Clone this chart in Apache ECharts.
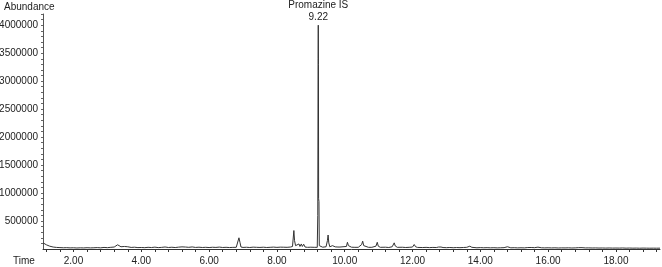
<!DOCTYPE html>
<html>
<head>
<meta charset="utf-8">
<script src="https://cdn.jsdelivr.net/npm/echarts@6/dist/echarts.min.js"></script>
<style>html,body{margin:0;padding:0;background:#fff;}#c{width:662px;height:267px;}</style>
</head>
<body>
<div id="c"></div>
<script>
// Retention time (min)
var times = [
1.10,1.15,1.20,1.30,1.40,1.50,1.60,1.70,1.80,1.90,2.00,2.10,2.20,2.30,2.40,2.50,2.60,2.70,2.80,2.90,
3.00,3.10,3.20,3.25,3.30,3.35,3.40,3.50,3.55,3.60,3.70,3.80,3.90,4.00,4.10,4.20,4.30,4.40,4.50,4.60,
4.70,4.80,4.90,5.00,5.10,5.20,5.25,5.30,5.40,5.50,5.60,5.70,5.80,5.90,6.00,6.10,6.20,6.30,6.40,6.50,
6.60,6.70,6.80,6.85,6.88,6.91,6.94,7.00,7.10,7.20,7.30,7.35,7.40,7.50,7.60,7.70,7.80,7.90,8.00,8.10,
8.15,8.20,8.30,8.40,8.46,8.50,8.52,8.55,8.60,8.65,8.68,8.72,8.75,8.79,8.83,8.90,9.00,9.05,9.10,9.15,
9.19,9.205,9.215,9.22,9.225,9.23,9.24,9.25,9.30,9.35,9.40,9.45,9.49,9.51,9.53,9.56,9.60,9.64,9.66,9.69,
9.72,9.76,9.80,9.83,9.86,9.90,9.95,10.00,10.05,10.08,10.11,10.15,10.20,10.25,10.30,10.35,10.40,10.45,10.50,10.53,
10.56,10.60,10.70,10.75,10.80,10.85,10.92,10.96,10.99,11.05,11.10,11.20,11.30,11.40,11.46,11.49,11.55,11.60,11.70,11.80,
11.90,12.00,12.05,12.09,12.15,12.20,12.30,12.40,12.50,12.60,12.70,12.77,12.80,12.84,12.90,13.00,13.10,13.20,13.30,13.40,
13.50,13.60,13.69,13.75,13.80,13.90,14.00,14.10,14.20,14.30,14.40,14.50,14.60,14.70,14.80,14.85,14.90,15.00,15.10,15.20,
15.30,15.40,15.50,15.60,15.70,15.75,15.80,15.90,16.00,16.10,16.20,16.30,16.40,16.50,16.60,16.70,16.80,16.90,16.95,17.00,
17.10,17.20,17.30,17.40,17.50,17.60,17.70,17.80,17.90,18.00,18.10,18.20,18.30,18.40,18.50,18.60,18.70,18.80,18.90,19.00,
19.10,19.20,19.30
];
// Abundance
var abundance = [
110000,95000,75000,50000,35000,28000,25000,22000,24000,20000,22000,18000,21000,19000,23000,20000,22000,25000,21000,28000,
24000,30000,35000,50000,75000,60000,40000,45000,35000,40000,28000,32000,25000,27000,24000,30000,26000,33000,25000,29000,
36000,27000,31000,26000,33000,38000,55000,35000,30000,37000,28000,32000,27000,30000,26000,31000,28000,34000,27000,30000,
26000,29000,30000,60000,200000,120000,35000,28000,31000,27000,33000,45000,30000,28000,32000,27000,30000,34000,29000,33000,
50000,32000,30000,35000,45000,330000,150000,60000,40000,90000,45000,90000,45000,85000,35000,30000,32000,45000,30000,28000,
30000,600000,3400000,4000000,3300000,900000,850000,60000,35000,32000,30000,40000,150000,250000,110000,40000,35000,60000,90000,45000,
38000,55000,35000,60000,35000,32000,40000,30000,45000,120000,60000,35000,32000,40000,30000,35000,30000,38000,80000,140000,
60000,32000,30000,40000,30000,33000,50000,120000,50000,30000,28000,32000,27000,40000,110000,55000,30000,28000,31000,27000,
30000,35000,80000,40000,28000,30000,26000,29000,25000,28000,26000,35000,62000,35000,26000,24000,27000,23000,26000,24000,
27000,30000,50000,30000,24000,22000,25000,22000,24000,21000,23000,20000,22000,24000,40000,25000,21000,23000,20000,22000,
20000,26000,27000,24000,33000,25000,22000,20000,22000,19000,21000,18000,20000,19000,21000,18000,20000,24000,28000,24000,
19000,20000,18000,19000,17000,18000,16000,18000,16000,17000,16000,18000,15000,17000,15000,16000,14000,16000,15000,14000,
15000,14000,15000
];
var xLabelValues = [2, 4, 6, 8, 10, 12, 14, 16, 18];
var yLabelValues = [500000, 1000000, 1500000, 2000000, 2500000, 3000000, 3500000, 4000000];
var peakName = 'Promazine IS';
var peakTime = 9.22;
var peakAbundance = 4000000;

var xMinorTicks = [];
for (var t = 1.2; t <= 19.25; t += 0.4) xMinorTicks.push(Math.round(t * 10) / 10);
var yMinorTicks = [];
for (var v = 100000; v <= 4200000; v += 100000) yMinorTicks.push(v);

var data = times.map(function (t, i) { return [t, abundance[i]]; });
var FONT = 'Liberation Sans, Arial, sans-serif';
var chart = echarts.init(document.getElementById('c'), null, {renderer: 'canvas'});
chart.setOption({
  animation: false,
  backgroundColor: '#fff',
  grid: {left: 43, right: 2, top: 14, bottom: 18, containLabel: false, outerBoundsMode: 'none'},
  graphic: [
    {type: 'text', left: 4, top: 2, style: {text: 'Abundance', font: '10px ' + FONT, fill: '#222'}},
    {type: 'text', left: 13, top: 256, style: {text: 'Time', font: '10px ' + FONT, fill: '#222'}}
  ],
  xAxis: {
    type: 'value', min: 1.1, max: 19.3,
    axisLine: {show: true, onZero: false, lineStyle: {color: '#333', width: 1}},
    axisTick: {show: true, customValues: xMinorTicks, length: 3, lineStyle: {color: '#333'}},
    axisLabel: {customValues: xLabelValues, formatter: function (v) { return v.toFixed(2); },
      margin: 7, fontSize: 10, fontFamily: FONT, color: '#222'},
    splitLine: {show: false}
  },
  yAxis: {
    type: 'value', min: 0, max: 4200000,
    axisLine: {show: true, lineStyle: {color: '#555', width: 1}},
    axisTick: {show: true, customValues: yMinorTicks, length: 2, lineStyle: {color: '#666'}},
    axisLabel: {customValues: yLabelValues, formatter: function (v) { return String(v); },
      margin: 5, fontSize: 10, fontFamily: FONT, color: '#222'},
    splitLine: {show: false}
  },
  series: [{
    type: 'line', data: data, symbol: 'none', showSymbol: false,
    lineStyle: {color: '#333', width: 1},
    markPoint: {
      symbol: 'circle', symbolSize: 0,
      data: [{coord: [peakTime, peakAbundance]}],
      label: {show: true, position: 'top', distance: 2, formatter: peakName + '\n' + peakTime.toFixed(2),
        fontSize: 10, lineHeight: 12, fontFamily: FONT, color: '#222'}
    }
  }]
});
</script>
</body>
</html>
